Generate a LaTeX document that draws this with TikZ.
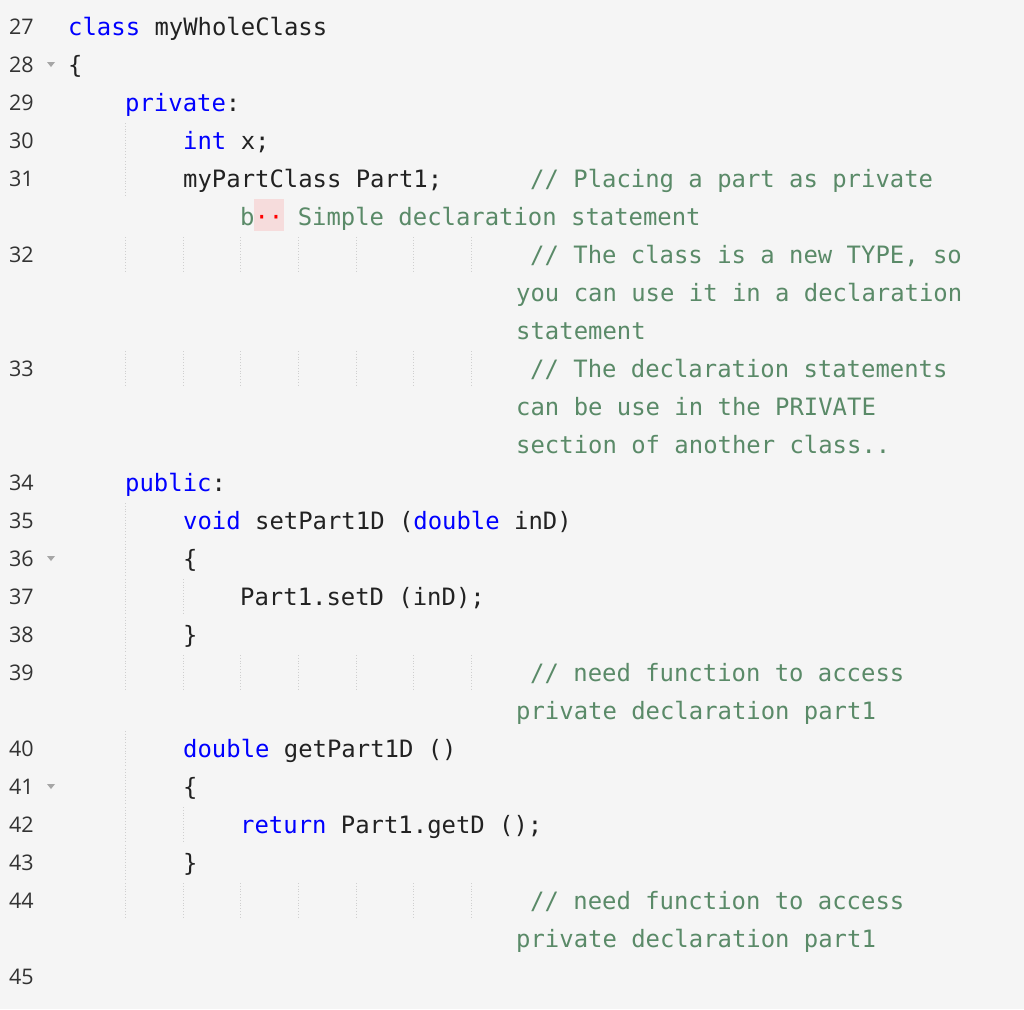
\documentclass[tikz,border=0pt]{standalone}
\usepackage{fontspec}
\setmonofont{DejaVu Sans Mono}
\setsansfont{Open Sans}
\definecolor{bg}{HTML}{F5F5F5}
\definecolor{kw}{HTML}{0000FF}
\definecolor{cm}{HTML}{5A8A68}
\definecolor{tx}{HTML}{222222}
\definecolor{ln}{HTML}{333333}
\definecolor{gd}{HTML}{CFCFCF}
\definecolor{hl}{HTML}{F6DCDC}
\begin{document}
\begin{tikzpicture}[x=1pt,y=-1pt,
  code/.style={anchor=base west,inner sep=0,font=\ttfamily\fontsize{23.9}{26}\selectfont,text=tx},
  num/.style={anchor=base west,inner sep=0,font=\sffamily\fontsize{21.5}{24}\selectfont,text=ln},
  guide/.style={draw=gd,line width=0.8pt,dotted},
  fold/.style={fill=gray!70,draw=none}]
\fill[bg] (0,0) rectangle (1024,1009);
\useasboundingbox (0,0) rectangle (1024,1009);
\newcommand\kw[1]{{\color{kw}#1}}
\newcommand\cmt[1]{{\color{cm}#1}}
% line numbers
\foreach \n/\r in {27/0,28/1,29/2,30/3,31/4,32/6,33/9,34/12,35/13,36/14,37/15,38/16,39/17,40/19,41/20,42/21,43/22,44/23,45/25}
  \node[num] (n\n) at (9,{27+38*\r+7}) {\n};
\foreach \r in {1,14,20}
  \fill[fold] (47,{27+38*\r-3}) -- (55,{27+38*\r-3}) -- (51,{27+38*\r+2}) -- cycle;
% guides
\foreach \r in {3,4,13,14,15,16,19,20,21,22}
  \draw[guide] (125,{27+38*\r-18}) -- (125,{27+38*\r+18});
\foreach \r in {15,21}
  \draw[guide] (183,{27+38*\r-18}) -- (183,{27+38*\r+18});
\foreach \r in {6,9,17,23}
  \foreach \x in {125,183,240,298,356,413,471}
    \draw[guide] (\x,{27+38*\r-18}) -- (\x,{27+38*\r+18});
% highlight
\fill[hl] (254,199) rectangle (284,231);
% code
\def\Y#1{{27+38*#1+8}}
\node[code] (l27) at (68,\Y0) {\kw{class} myWholeClass};
\node[code] (l28) at (68,\Y1) {\{};
\node[code] (l29) at (125,\Y2) {\kw{private}:};
\node[code] (l30) at (183,\Y3) {\kw{int} x;};
\node[code] (l31) at (183,\Y4) {myPartClass Part1;};
\node[code] (c31) at (530,\Y4) {\cmt{// Placing a part as private}};
\node[code] (c31b) at (240,\Y5) {\cmt{b}{\color{red}··}\ \cmt{Simple declaration statement}};
\node[code] (c32a) at (530,\Y6) {\cmt{// The class is a new TYPE, so}};
\node[code] (c32b) at (516,\Y7) {\cmt{you can use it in a declaration}};
\node[code] (c32c) at (516,\Y8) {\cmt{statement}};
\node[code] (c33a) at (530,\Y9) {\cmt{// The declaration statements}};
\node[code] (c33b) at (516,\Y{10}) {\cmt{can be use in the PRIVATE}};
\node[code] (c33c) at (516,\Y{11}) {\cmt{section of another class..}};
\node[code] (l34) at (125,\Y{12}) {\kw{public}:};
\node[code] (l35) at (183,\Y{13}) {\kw{void} setPart1D (\kw{double} inD)};
\node[code] (l36) at (183,\Y{14}) {\{};
\node[code] (l37) at (240,\Y{15}) {Part1.setD (inD);};
\node[code] (l38) at (183,\Y{16}) {\}};
\node[code] (c39a) at (530,\Y{17}) {\cmt{// need function to access}};
\node[code] (c39b) at (516,\Y{18}) {\cmt{private declaration part1}};
\node[code] (l40) at (183,\Y{19}) {\kw{double} getPart1D ()};
\node[code] (l41) at (183,\Y{20}) {\{};
\node[code] (l42) at (240,\Y{21}) {\kw{return} Part1.getD ();};
\node[code] (l43) at (183,\Y{22}) {\}};
\node[code] (c44a) at (530,\Y{23}) {\cmt{// need function to access}};
\node[code] (c44b) at (516,\Y{24}) {\cmt{private declaration part1}};
\end{tikzpicture}
\end{document}
